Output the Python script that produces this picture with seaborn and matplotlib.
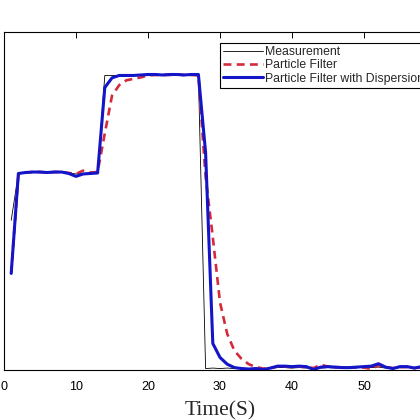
import numpy as np
import pandas as pd
import seaborn as sns
import matplotlib
matplotlib.use("Agg")
import matplotlib.pyplot as plt

# ---- data ----
time = list(range(1, 61))

measurement = [31.0, 40.7, 40.9, 41.0, 41.0, 40.9, 41.0, 41.0, 40.8, 40.6,
               40.7, 40.8, 40.8, 61.0, 61.0, 61.0, 61.0, 61.0, 61.0, 61.0,
               61.0, 61.0, 61.0, 61.0, 61.0, 61.0, 61.0, 0.3, 0.4, 0.3,
               0.4, 0.3, 0.4, 0.3, 0.4, 0.3, 0.4, 0.5, 0.5, 0.4,
               0.5, 0.4, 0.3, 0.4, 0.5, 0.4, 0.4, 0.4, 0.5, 0.5,
               0.5, 0.6, 0.4, 0.3, 0.5, 0.5, 0.4, 0.5, 0.4, 0.5]

particle_filter = [20.0, 40.5, 40.9, 41.0, 41.0, 40.9, 41.0, 41.0, 40.8, 40.6,
                   41.3, 40.9, 41.0, 49.0, 56.8, 59.0, 60.0, 60.3, 60.6, 61.0,
                   61.1, 61.1, 61.1, 61.2, 61.1, 61.1, 61.0, 40.0, 27.5, 14.0,
                   7.5, 4.0, 2.3, 1.2, 0.6, 0.3, 0.4, 0.7, 0.7, 0.6,
                   0.7, 0.6, 0.4, 1.1, 0.7, 0.6, 0.5, 0.5, 0.5, 0.5,
                   0.2, 1.0, 0.6, 0.4, 0.6, 0.6, 0.4, 0.6, 0.5, 0.6]

pf_dispersion = [20.0, 40.7, 40.9, 41.0, 41.0, 40.9, 41.0, 41.0, 40.7, 40.1,
                 40.6, 40.7, 40.8, 58.5, 60.5, 61.0, 61.0, 61.0, 61.1, 61.2,
                 61.2, 61.1, 61.2, 61.2, 61.1, 61.2, 61.2, 45.0, 5.5, 2.6,
                 1.2, 0.5, 0.3, 0.2, 0.3, 0.1, 0.4, 0.8, 0.8, 0.7,
                 0.8, 0.7, 0.1, 0.6, 0.7, 0.6, 0.5, 0.5, 0.6, 0.7,
                 0.8, 1.3, 0.6, 0.3, 0.7, 0.7, 0.4, 0.7, 0.5, 0.6]

series_names = ["Measurement", "Particle Filter", "Particle Filter with Dispersion"]
x_ticks = [0, 10, 20, 30, 40, 50, 60]
y_ticks = [0, 10, 20, 30, 40, 50, 60, 70]
x_label = "Time(S)"

# ---- figure ----
sns.set_style("white")
plt.rcParams["font.family"] = ["Liberation Sans", "DejaVu Sans"]

fig = plt.figure(figsize=(4.2, 4.2), dpi=100)
W = H = 420.0
ax = fig.add_axes([4 / W, 50 / H, 432 / W, 338 / H])

sns.lineplot(x=time, y=measurement, ax=ax, color="black", linewidth=0.6,
             label=series_names[0])
sns.lineplot(x=time, y=particle_filter, ax=ax, color="#d42a3a", linewidth=1.9,
             label=series_names[1])
sns.lineplot(x=time, y=pf_dispersion, ax=ax, color="#1414c8", linewidth=2.2,
             label=series_names[2])
ax.lines[1].set_dashes((3, 2))

ax.set_xlim(0, 60)
ax.set_ylim(0, 70)
ax.set_xticks(x_ticks)
ax.set_xticklabels([str(v) for v in x_ticks])
ax.set_yticks(y_ticks)
ax.set_yticklabels([str(v) for v in y_ticks])
ax.tick_params(direction="in", top=True, right=True, length=4, width=0.7,
               labelsize=9, pad=8, colors="black")
for s in ax.spines.values():
    s.set_visible(True)
    s.set_color("black")
    s.set_linewidth(0.8)

ax.set_xlabel(x_label, fontfamily="Liberation Serif", fontsize=15.5, labelpad=6)
ax.set_ylabel("")

leg = ax.legend(loc="upper left", bbox_to_anchor=(0.5, 0.967), borderaxespad=0,
                frameon=True, fancybox=False, edgecolor="black",
                fontsize=8.8, labelspacing=0.1, handlelength=3.3,
                handletextpad=0.15, borderpad=0.25)
leg.get_frame().set_linewidth(0.8)
leg.get_frame().set_alpha(1)

fig.savefig("out.png", dpi=100, facecolor="white")
